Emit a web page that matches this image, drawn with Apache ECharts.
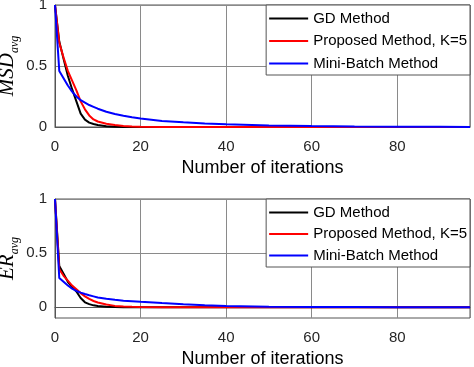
<!DOCTYPE html>
<html>
<head>
<meta charset="utf-8">
<script src="https://cdn.jsdelivr.net/npm/echarts@6/dist/echarts.min.js"></script>
<style>
html,body{margin:0;padding:0;background:#fff;}
#chart{width:474px;height:367px;}
</style>
</head>
<body>
<div id="chart"></div>
<script>
// ---- data ----
const iters = [0,1,2,3,4,5,6,7,8,9,10,12,14,16,18,20,25,30,35,40,50,60,70,80,90,97];
const seriesNames = ['GD Method','Proposed Method, K=5','Mini-Batch Method'];
// MSD_avg (top)
const msdGD = [1,0.70,0.56,0.42,0.31,0.21,0.11,0.06,0.036,0.025,0.016,0.007,0.003,0.001,0,0,0,0,0,0,0,0,0,0,0,0];
const msdProposed = [1,0.69,0.57,0.46,0.38,0.30,0.21,0.145,0.095,0.062,0.045,0.027,0.016,0.009,0.005,0.003,0.001,0,0,0,0,0,0,0,0,0];
const msdMiniBatch = [1,0.46,0.40,0.34,0.29,0.25,0.22,0.20,0.18,0.165,0.15,0.125,0.107,0.093,0.08,0.07,0.05,0.038,0.029,0.022,0.013,0.008,0.005,0.003,0.002,0.001];
// ER_avg (bottom)
const erGD = [1,0.38,0.31,0.235,0.185,0.145,0.085,0.045,0.028,0.017,0.01,0.004,0.001,0,0,0,0,0,0,0,0,0,0,0,0,0];
const erProposed = [1,0.35,0.29,0.245,0.20,0.165,0.13,0.10,0.076,0.057,0.043,0.025,0.012,0.006,0.003,0.001,0,0,0,0,0,0,0,0,0,0];
const erMiniBatch = [1,0.27,0.235,0.20,0.172,0.15,0.135,0.122,0.11,0.10,0.09,0.078,0.068,0.06,0.055,0.05,0.038,0.028,0.019,0.012,0.005,0.002,0.001,0,0,0];
const xTicks = [0,20,40,60,80];
const yTicks = [0,0.5,1];

const colors = ['#000000','#ff0000','#0000ff'];
const pair = arr => iters.map((x,i)=>[x,arr[i]]);

const gridColor = '#8a8a8a';
const boxColor = '#555555';
const labelColor = '#262626';
const sansFont = 'Liberation Sans, Arial, sans-serif';

function xAxis(idx){
  return {
    type:'value', gridIndex:idx, min:0, max:97, interval:20,
    name:'Number of iterations', nameLocation:'middle', nameGap:32, nameMoveOverlap:false,
    nameTextStyle:{fontSize:18, color:'#000', fontFamily:sansFont},
    axisLine:{show:true, lineStyle:{color:boxColor, width:1}},
    axisTick:{show:false},
    axisLabel:{color:labelColor, fontSize:15, margin:12, fontFamily:sansFont,
      formatter:v => xTicks.indexOf(Math.round(v))>=0 && Math.abs(v-Math.round(v))<1e-9 ? String(Math.round(v)) : ''},
    splitLine:{show:true, lineStyle:{color:gridColor, width:1}}
  };
}
function yName(main){
  return '{m|'+main+'}{s|avg}';
}
const yRich = {
  m:{fontSize:21, fontStyle:'italic', fontFamily:'Liberation Serif, Times New Roman, serif', color:'#000', verticalAlign:'bottom'},
  s:{fontSize:12, fontStyle:'italic', fontFamily:'Liberation Serif, Times New Roman, serif', color:'#000', verticalAlign:'bottom', padding:[0,0,-3,0]}
};
function fmtY(v){
  for (const t of yTicks){ if (Math.abs(v-t)<1e-9) return String(t); }
  return '';
}
// bottom axis: ticks every 0.1 from -0.1; grid lines only at 0, 0.5, 1
const bottomTickVals = [];
for (let k=-1;k<=10;k++) bottomTickVals.push(k/10);
const bottomGridColors = bottomTickVals.map(v => yTicks.some(t=>Math.abs(v-t)<1e-9) ? gridColor : 'rgba(0,0,0,0)');

function legendCfg(top, gap, pad){
  return {right:4, top:top, orient:'vertical', icon:'rect', itemWidth:39, itemHeight:2, itemGap:gap,
    padding:pad, backgroundColor:'#fff', borderColor:boxColor, borderWidth:1, borderRadius:0,
    textStyle:{fontSize:15, lineHeight:14, color:'#000', fontFamily:sansFont},
    data:seriesNames};
}

const option = {
  animation:false,
  backgroundColor:'#fff',
  grid:[
    {left:55, top:5, width:415, height:122, outerBoundsMode:'none', containLabel:false, show:true, borderColor:boxColor, borderWidth:1, backgroundColor:'transparent'},
    {left:55, top:199, width:415, height:119, outerBoundsMode:'none', containLabel:false, show:true, borderColor:boxColor, borderWidth:1, backgroundColor:'transparent'}
  ],
  xAxis:[xAxis(0), xAxis(1)],
  yAxis:[
    {type:'value', gridIndex:0, min:0, max:1, interval:0.5,
     name:yName('MSD'), nameLocation:'middle', nameGap:37, nameRotate:90, nameMoveOverlap:false,
     nameTextStyle:{rich:yRich},
     axisLine:{show:true, lineStyle:{color:boxColor}}, axisTick:{show:false},
     axisLabel:{color:labelColor, fontSize:15, margin:8, fontFamily:sansFont, formatter:fmtY},
     splitLine:{show:true, lineStyle:{color:gridColor, width:1}}},
    {type:'value', gridIndex:1, min:-0.1, max:1, interval:0.1,
     name:yName('ER'), nameLocation:'middle', nameGap:37, nameRotate:90, nameMoveOverlap:false,
     nameTextStyle:{rich:yRich},
     axisLine:{show:true, lineStyle:{color:boxColor}}, axisTick:{show:false},
     axisLabel:{color:labelColor, fontSize:15, margin:8, fontFamily:sansFont, formatter:fmtY},
     splitLine:{show:true, lineStyle:{color:bottomGridColors, width:1}}}
  ],
  legend:[
    legendCfg(5, 7.5, [6,3,4,3]),
    legendCfg(199, 6.5, [6,3,4,3])
  ],
  series:[
    {name:seriesNames[0], type:'line', xAxisIndex:0, yAxisIndex:0, data:pair(msdGD), symbol:'none', smooth:false, lineStyle:{color:colors[0], width:2}, itemStyle:{color:colors[0]}},
    {name:seriesNames[1], type:'line', xAxisIndex:0, yAxisIndex:0, data:pair(msdProposed), symbol:'none', smooth:false, lineStyle:{color:colors[1], width:2}, itemStyle:{color:colors[1]}},
    {name:seriesNames[2], type:'line', xAxisIndex:0, yAxisIndex:0, data:pair(msdMiniBatch), symbol:'none', smooth:false, lineStyle:{color:colors[2], width:2}, itemStyle:{color:colors[2]}},
    {name:seriesNames[0], type:'line', xAxisIndex:1, yAxisIndex:1, data:pair(erGD), symbol:'none', smooth:false, lineStyle:{color:colors[0], width:2}, itemStyle:{color:colors[0]}},
    {name:seriesNames[1], type:'line', xAxisIndex:1, yAxisIndex:1, data:pair(erProposed), symbol:'none', smooth:false, lineStyle:{color:colors[1], width:2}, itemStyle:{color:colors[1]}},
    {name:seriesNames[2], type:'line', xAxisIndex:1, yAxisIndex:1, data:pair(erMiniBatch), symbol:'none', smooth:false, lineStyle:{color:colors[2], width:2}, itemStyle:{color:colors[2]}}
  ]
};
const chart = echarts.init(document.getElementById('chart'), null, {renderer:'canvas'});
chart.setOption(option);
</script>
</body>
</html>
